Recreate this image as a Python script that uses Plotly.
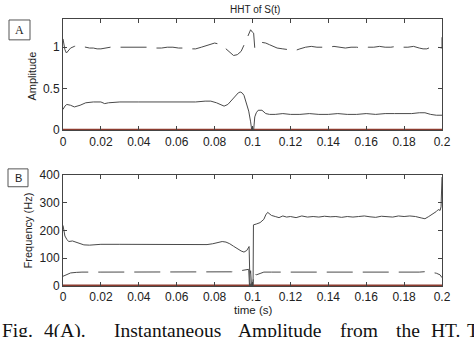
import plotly.graph_objects as go

# ---------------- data ----------------
x_ticks = [0, 0.02, 0.04, 0.06, 0.08, 0.1, 0.12, 0.14, 0.16, 0.18, 0.2]
x_tick_labels = ["0", "0.02", "0.04", "0.06", "0.08", "0.1", "0.12", "0.14", "0.16", "0.18", "0.2"]
amp_ticks = [0, 0.5, 1]
amp_tick_labels = ["0", "0.5", "1"]
freq_ticks = [0, 100, 200, 300, 400]
freq_tick_labels = ["0", "100", "200", "300", "400"]

# Panel A: instantaneous amplitude, dashed component (around 1)
amp1_t = [0, 0.001, 0.0018, 0.004, 0.006, 0.008, 0.010, 0.012, 0.014, 0.016, 0.018, 0.020,
          0.022, 0.025, 0.028, 0.031, 0.034, 0.037, 0.040, 0.043, 0.046, 0.049, 0.052,
          0.055, 0.058, 0.061, 0.064, 0.067, 0.070, 0.073, 0.076, 0.078, 0.080, 0.082,
          0.084, 0.086, 0.088, 0.090, 0.092, 0.094, 0.096, 0.098, 0.099, 0.100, 0.1006,
          0.1012, 0.103, 0.1045, 0.107, 0.109, 0.111, 0.113, 0.116, 0.119, 0.1225, 0.125,
          0.128, 0.131, 0.134, 0.137, 0.140, 0.143, 0.146, 0.149, 0.152, 0.155, 0.158,
          0.161, 0.164, 0.167, 0.170, 0.173, 0.176, 0.179, 0.182, 0.185, 0.188, 0.190,
          0.192, 0.194, 0.196, 0.198, 0.1995, 0.2, 0.2]
amp1_v = [1.10, 0.97, 0.93, 0.99, 1.01, 1.02, 1.01, 1.00, 0.99, 0.99, 0.98, 0.98,
          0.99, 1.00, 1.00, 1.00, 1.00, 1.00, 1.00, 1.00, 1.00, 0.99, 0.99,
          1.00, 1.00, 0.99, 0.99, 0.98, 0.98, 1.00, 1.02, 1.04, 1.05, 1.04,
          1.02, 0.98, 0.94, 0.90, 0.91, 0.95, 1.05, 1.17, 1.21, 1.18, 1.17,
          0.99, 1.02, 1.06, 1.05, 1.03, 1.01, 0.99, 0.98, 0.97, 0.96, 0.98,
          1.00, 1.01, 1.00, 1.00, 1.00, 1.01, 1.00, 0.99, 1.00, 1.00, 0.99,
          1.00, 1.00, 1.01, 1.00, 1.00, 1.01, 1.00, 1.00, 1.01, 0.99, 0.98,
          0.98, 1.00, 1.01, 1.00, 1.00, 0.99, 1.12]

# Panel A: instantaneous amplitude, solid component
amp2_t = [0, 0.001, 0.002, 0.004, 0.006, 0.009, 0.012, 0.016, 0.020, 0.022, 0.024,
          0.030, 0.040, 0.050, 0.060, 0.070, 0.075, 0.078, 0.081, 0.083, 0.085, 0.087,
          0.089, 0.091, 0.0925, 0.0935, 0.0945, 0.0955, 0.097, 0.098, 0.099, 0.0996,
          0.1006, 0.1012, 0.102, 0.103, 0.105, 0.107, 0.109, 0.112, 0.116, 0.120,
          0.125, 0.130, 0.135, 0.140, 0.145, 0.150, 0.155, 0.160, 0.165, 0.170, 0.175,
          0.180, 0.184, 0.188, 0.191, 0.194, 0.197, 0.2]
amp2_v = [0.25, 0.29, 0.31, 0.30, 0.28, 0.30, 0.33, 0.34, 0.34, 0.32, 0.33,
          0.34, 0.34, 0.34, 0.34, 0.34, 0.35, 0.35, 0.33, 0.31, 0.29, 0.31,
          0.36, 0.42, 0.45, 0.46, 0.45, 0.42, 0.32, 0.23, 0.10, 0.0,
          0.0, 0.16, 0.21, 0.24, 0.24, 0.20, 0.19, 0.19, 0.20, 0.19,
          0.19, 0.20, 0.19, 0.19, 0.20, 0.19, 0.19, 0.20, 0.19, 0.20, 0.20,
          0.20, 0.20, 0.21, 0.21, 0.19, 0.18, 0.18]

# Panel B: instantaneous frequency, solid component
freq1_t = [0, 0.001, 0.002, 0.003, 0.005, 0.007, 0.009, 0.011, 0.014, 0.017, 0.020,
           0.030, 0.040, 0.050, 0.060, 0.070, 0.076, 0.079, 0.082, 0.084, 0.086, 0.088,
           0.090, 0.092, 0.094, 0.0955, 0.097, 0.0982, 0.0987, 0.0993, 0.0997, 0.1003,
           0.1005, 0.102, 0.104, 0.106, 0.107, 0.108, 0.109, 0.110, 0.112, 0.114, 0.116,
           0.118, 0.120, 0.123, 0.126, 0.129, 0.132, 0.135, 0.138, 0.141, 0.144, 0.147,
           0.150, 0.153, 0.156, 0.159, 0.162, 0.165, 0.168, 0.171, 0.174, 0.177, 0.180,
           0.183, 0.186, 0.189, 0.191, 0.193, 0.195, 0.197, 0.198, 0.199, 0.1995, 0.2]
freq1_v = [218, 180, 168, 160, 162, 158, 152, 148, 147, 148, 150,
           150, 150, 150, 150, 150, 149, 152, 157, 160, 158, 152,
           143, 133, 126, 122, 128, 142, 0, 8, 0, 0,
           220, 223, 228, 240, 256, 265, 260, 254, 250, 246, 252,
           248, 250, 246, 252, 248, 250, 248, 251, 249, 250, 247,
           250, 248, 250, 252, 249, 247, 251, 250, 248, 252, 250,
           252, 250, 245, 242, 250, 258, 268, 275, 272, 285, 392]

# Panel B: instantaneous frequency, dashed component
freq2_t = [0, 0.002, 0.004, 0.007, 0.010, 0.020, 0.030, 0.040, 0.050, 0.060, 0.070,
           0.080, 0.085, 0.089, 0.092, 0.095, 0.097, 0.098, 0.0984, 0.0990, 0.0995,
           0.1002, 0.1006, 0.102, 0.104, 0.106, 0.110, 0.120, 0.130, 0.140, 0.150,
           0.160, 0.170, 0.180, 0.188, 0.192, 0.195, 0.197, 0.199, 0.2]
freq2_v = [35, 42, 47, 49, 50, 50, 50, 50, 50, 50, 50,
           50, 50, 51, 53, 56, 58, 60, 0, 55, 0,
           0, 50, 40, 45, 50, 50, 50, 51, 50, 50,
           49, 50, 50, 50, 52, 50, 46, 40, 30]

# Third component sits on zero in both panels
zero_t = [0, 0.2]
zero_v = [0, 0]

caption_words = ["Fig.", "4(A).", "Instantaneous", "Amplitude", "from", "the", "HT.", "Th"]
caption_left_px = [0, 42, 112, 236, 338, 394, 429, 465]

# ---------------- layout geometry ----------------
W, H = 474, 337
L, R, T, B = 63, 32, 17, 51
PW, PH = W - L - R, H - T - B


def px_x(p):
    return (p - L) / PW


def px_y(p):
    return (H - B - p) / PH


top_dom = [px_y(129), 1.0]
bot_dom = [0.0, px_y(174)]

line_col = "#4a4a4a"
zero_col = "#8c3b2e"
frame_col = "#444444"
dash = "26px,10px"

fig = go.Figure()
fig.add_trace(go.Scatter(x=zero_t, y=zero_v, mode="lines", line=dict(color=zero_col, width=3),
                         xaxis="x", yaxis="y", showlegend=False))
fig.add_trace(go.Scatter(x=amp1_t, y=amp1_v, mode="lines", line=dict(color=line_col, width=1, dash=dash),
                         xaxis="x", yaxis="y", showlegend=False))
fig.add_trace(go.Scatter(x=amp2_t, y=amp2_v, mode="lines", line=dict(color=line_col, width=1),
                         xaxis="x", yaxis="y", showlegend=False))
fig.add_trace(go.Scatter(x=zero_t, y=zero_v, mode="lines", line=dict(color=zero_col, width=3),
                         xaxis="x2", yaxis="y2", showlegend=False))
fig.add_trace(go.Scatter(x=freq2_t, y=freq2_v, mode="lines", line=dict(color=line_col, width=1, dash=dash),
                         xaxis="x2", yaxis="y2", showlegend=False))
fig.add_trace(go.Scatter(x=freq1_t, y=freq1_v, mode="lines", line=dict(color=line_col, width=1),
                         xaxis="x2", yaxis="y2", showlegend=False))

tickfont = dict(family="Liberation Sans, Arial, sans-serif", size=12, color="#222222")
common_x = dict(range=[0, 0.2], tickvals=x_ticks, ticktext=x_tick_labels, ticks="inside", ticklen=4,
                tickcolor=frame_col, showline=True, linecolor=frame_col, linewidth=1, mirror="ticks",
                showgrid=False, zeroline=False, tickfont=tickfont)
common_y = dict(ticks="inside", ticklen=4, tickcolor=frame_col, showline=True, linecolor=frame_col,
                linewidth=1, mirror="ticks", showgrid=False, zeroline=False, tickfont=tickfont)

fig.update_layout(
    width=W, height=H,
    margin=dict(l=L, r=R, t=T, b=B),
    paper_bgcolor="white", plot_bgcolor="white",
    xaxis=dict(domain=[0, 1], anchor="y", **common_x),
    yaxis=dict(domain=top_dom, anchor="x", range=[0, 1.34], tickvals=amp_ticks,
               ticktext=amp_tick_labels, **common_y),
    xaxis2=dict(domain=[0, 1], anchor="y2", **common_x),
    yaxis2=dict(domain=bot_dom, anchor="x2", range=[0, 400], tickvals=freq_ticks,
                ticktext=freq_tick_labels, **common_y),
)

sans = "Liberation Sans, Arial, sans-serif"
serif = "Liberation Serif, Times New Roman, serif"
ann = [
    dict(text="HHT of S(t)", x=px_x(255), y=px_y(7), font=dict(family=sans, size=10, color="#222")),
    dict(text="Amplitude", x=px_x(32), y=px_y(75), textangle=-90, font=dict(family=sans, size=11, color="#222")),
    dict(text="Frequency (Hz)", x=px_x(28), y=px_y(230), textangle=-90, font=dict(family=sans, size=11, color="#222")),
    dict(text="time (s)", x=px_x(253), y=px_y(310), font=dict(family=sans, size=11.5, color="#222")),
    dict(text="A", x=px_x(19.5), y=px_y(28), font=dict(family=serif, size=12, color="#222")),
    dict(text="B", x=px_x(18), y=px_y(177), font=dict(family=sans, size=11, color="#222")),
]
for w, lp in zip(caption_words, caption_left_px):
    ann.append(dict(text=w, x=px_x(lp), y=px_y(331), xanchor="left",
                    font=dict(family=serif, size=19.5, color="#111")))
for a in ann:
    a.update(xref="paper", yref="paper", showarrow=False)
    a.setdefault("xanchor", "center")
    a.setdefault("yanchor", "middle")
fig.update_layout(annotations=ann)

fig.update_layout(shapes=[
    dict(type="rect", xref="paper", yref="paper", x0=px_x(9), x1=px_x(30), y0=px_y(38), y1=px_y(18),
         line=dict(color="#555", width=1)),
    dict(type="rect", xref="paper", yref="paper", x0=px_x(8), x1=px_x(28), y0=px_y(186), y1=px_y(168),
         line=dict(color="#555", width=1)),
])

fig.write_html("out.html")
